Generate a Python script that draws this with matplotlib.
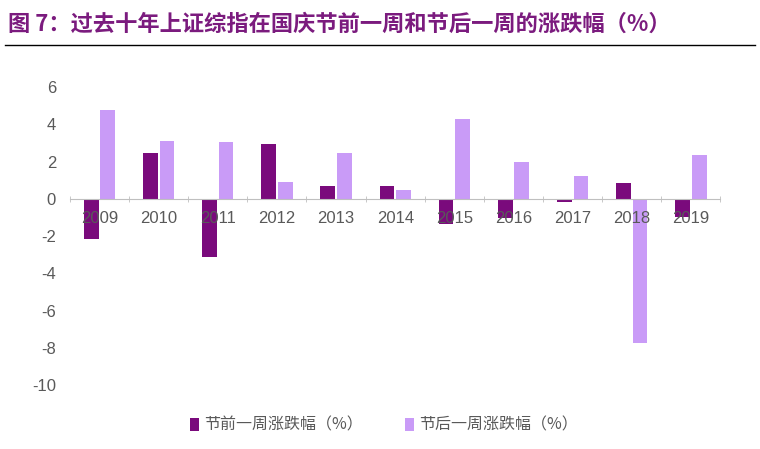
import matplotlib
matplotlib.use("Agg")
import matplotlib.pyplot as plt
import numpy as np

plt.rcParams['font.family'] = ['Liberation Sans', 'Noto Sans CJK SC', 'DejaVu Sans']
plt.rcParams['axes.unicode_minus'] = False

years = ['2009', '2010', '2011', '2012', '2013', '2014', '2015', '2016', '2017', '2018', '2019']
pre_week = [-2.15, 2.47, -3.1, 2.94, 0.67, 0.68, -1.35, -1.05, -0.18, 0.83, -0.95]
post_week = [4.77, 3.13, 3.06, 0.88, 2.47, 0.45, 4.28, 1.98, 1.22, -7.75, 2.38]
series_names = ['节前一周涨跌幅（%）', '节后一周涨跌幅（%）']
title = '图 7：过去十年上证综指在国庆节前一周和节后一周的涨跌幅（%）'

dark = '#7A0A7C'
light = '#C99BF7'
grey = '#595959'

fig = plt.figure(figsize=(7.6, 4.49), dpi=100)
ax = fig.add_axes([0.092, 0.1425, 0.856, 0.6635])

x = np.arange(len(years))
w = 0.25
ax.bar(x - 0.14, pre_week, w, color=dark, label=series_names[0], zorder=1)
ax.bar(x + 0.14, post_week, w, color=light, label=series_names[1], zorder=1)
ax.set_axisbelow(False)

ax.set_xlim(-0.5, len(years) - 0.5)
ax.set_ylim(-10, 6)
ax.set_yticks(np.arange(-10, 7, 2))
ax.tick_params(axis='y', length=0, labelsize=12, labelcolor=grey, pad=10)

for s in ['top', 'right', 'left']:
    ax.spines[s].set_visible(False)
ax.spines['bottom'].set_position(('data', 0))
ax.spines['bottom'].set_color('#BFBFBF')

ax.set_xticks(x)
ax.set_xticklabels(years)
ax.set_xticks(np.arange(-0.5, len(years)), minor=True)
ax.tick_params(axis='x', which='major', length=0, labelsize=12, labelcolor=grey, pad=9)
ax.tick_params(axis='x', which='minor', length=4, color='#BFBFBF', direction='inout')

leg = fig.legend(loc='center', bbox_to_anchor=(0.505, 0.053), ncol=2, frameon=False,
                 fontsize=11.5, handlelength=0.6, handleheight=0.9, handletextpad=0.3,
                 columnspacing=2.6)
for t in leg.get_texts():
    t.set_color(grey)
    t.set_family(['Noto Sans CJK SC', 'DejaVu Sans'])

fig.text(0.011, 0.945, title, fontsize=16, fontweight='bold', color='#7B1B7E',
         va='center', ha='left', family=['Noto Sans CJK SC', 'DejaVu Sans'])
fig.add_artist(plt.Line2D([0.007, 0.993], [0.9, 0.9], color='black', linewidth=1.0))

fig.savefig('out.png', dpi=100)
